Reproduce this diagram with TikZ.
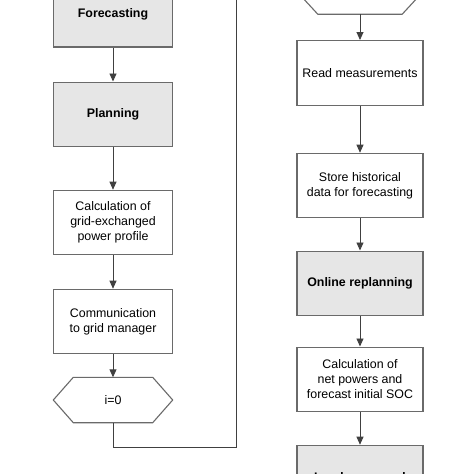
\documentclass[tikz,border=0pt]{standalone}
\usepackage{fontspec}
\setmainfont{Liberation Sans}
\usetikzlibrary{arrows.meta}
\definecolor{boxfill}{HTML}{E6E6E6}
\definecolor{boxline}{HTML}{6A6A6A}
\definecolor{conn}{HTML}{404040}
\begin{document}
\begin{tikzpicture}[x=1pt,y=-1pt,
  every node/.style={font=\fontsize{12.4}{14.8}\selectfont, align=center, inner sep=0pt},
  boxL/.style={draw=boxline, line width=1.1pt, minimum width=119pt, minimum height=64.5pt},
  boxR/.style={draw=boxline, line width=1.1pt, minimum width=126pt, minimum height=64.5pt},
  grayb/.style={fill=boxfill, font=\fontsize{12.4}{14.8}\selectfont\bfseries},
  hexbase/.style={minimum height=45pt},
  hexline/.style={draw=boxline, line width=1.1pt},
  arr/.style={draw=conn, line width=0.9pt, -{Triangle[length=8pt,width=7pt]}},
  ln/.style={draw=conn, line width=0.9pt}]
\useasboundingbox (0,0) rectangle (474,474);
\fill[white] (0,0) rectangle (474,474);
\clip (0,0) rectangle (474,474);

% left column
\node[boxL,grayb] (fore) at (113,14.75) {Forecasting};
\node[boxL,grayb] (plan) at (113,114.3) {Planning};
\node[boxL] (calc) at (113,222.5) {Calculation of\\grid-exchanged\\power profile};
\node[boxL] (comm) at (113,321.5) {Communication\\to grid manager};
\node[hexbase,minimum width=119pt] (hexL) at (113,400) {i=0};
\draw[hexline] (hexL.west) -- ([xshift=20pt]hexL.north west) -- ([xshift=-20pt]hexL.north east)
  -- (hexL.east) -- ([xshift=-20pt]hexL.south east) -- ([xshift=20pt]hexL.south west) -- cycle;

% right column
\node[hexbase,minimum width=126pt] (hexR) at (360,-8.5) {};
\draw[hexline] (hexR.west) -- ([xshift=21pt]hexR.north west) -- ([xshift=-21pt]hexR.north east)
  -- (hexR.east) -- ([xshift=-21pt]hexR.south east) -- ([xshift=21pt]hexR.south west) -- cycle;
\node[boxR] (read) at (360,72.8) {Read measurements};
\node[boxR] (store) at (360,185.5) {Store historical\\data for forecasting};
\node[boxR,grayb] (online) at (360,283.3) {Online replanning};
\node[boxR] (net) at (360,379.3) {Calculation of\\net powers and\\forecast initial SOC};
\node[boxR,grayb] (load) at (360,477.5) {Load command};

% connectors
\draw[arr] (fore) -- (plan);
\draw[arr] (plan) -- (calc);
\draw[arr] (calc) -- (comm);
\draw[arr] (comm) -- (hexL);
\draw[arr] (hexR) -- (read);
\draw[arr] (read) -- (store);
\draw[arr] (store) -- (online);
\draw[arr] (online) -- (net);
\draw[arr] (net) -- (load);

\coordinate (c1) at (113,447.7);
\coordinate (c2) at (236,447.7);
\coordinate (c3) at (236,-10);
\draw[ln] (hexL.south) -- (c1) -- (c2) -- (c3);
\end{tikzpicture}
\end{document}
